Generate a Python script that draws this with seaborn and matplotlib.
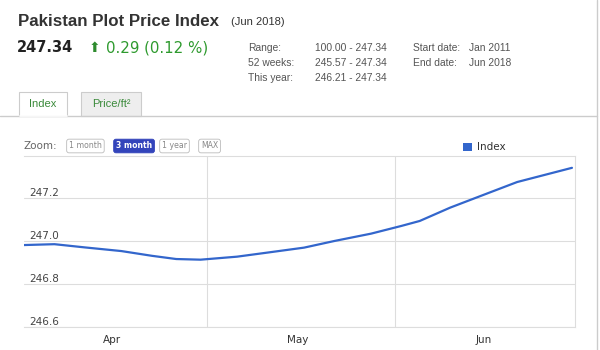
import seaborn as sns
import matplotlib.pyplot as plt
from matplotlib.patches import Rectangle
import pandas as pd

# values
dates = ["2018-04-01", "2018-04-06", "2018-04-11", "2018-04-17", "2018-04-22",
         "2018-04-26", "2018-04-30", "2018-05-06", "2018-05-11", "2018-05-17",
         "2018-05-22", "2018-05-28", "2018-06-02", "2018-06-05", "2018-06-10",
         "2018-06-16", "2018-06-21", "2018-06-27", "2018-06-30"]
index_vals = [246.981, 246.985, 246.970, 246.953, 246.931,
              246.916, 246.913, 246.927, 246.946, 246.969,
              247.000, 247.034, 247.070, 247.093, 247.155,
              247.220, 247.274, 247.318, 247.340]
y_ticks = [246.6, 246.8, 247.0, 247.2]
month_labels = ["Apr", "May", "Jun"]
month_mid = ["2018-04-15 12:00", "2018-05-16 00:00", "2018-06-15 12:00"]
month_starts = ["2018-05-01", "2018-06-01"]
zoom_buttons = ["1 month", "3 month", "1 year", "MAX"]

df = pd.DataFrame({"date": pd.to_datetime(dates), "Index": index_vals})

sns.set_style("white")
plt.rcParams['font.family'] = ['Liberation Sans', 'DejaVu Sans']

W, H = 600, 350
fig = plt.figure(figsize=(6, 3.5), dpi=100)

def fx(px):
    return px / W

def fy(py):
    return 1 - py / H

# header
fig.text(fx(18), fy(22), "Pakistan Plot Price Index", fontsize=12.2, fontweight='bold',
         color='#333333', va='center', ha='left')
fig.text(fx(231), fy(22), "(Jun 2018)", fontsize=8, color='#333333', va='center')
fig.text(fx(17), fy(48), "247.34", fontsize=10.5, fontweight='bold', color='#222222',
         va='center', family='DejaVu Sans')
fig.text(fx(89), fy(48), "\u2b06", fontsize=10, color='#2e8b2e', va='center', family='DejaVu Sans')
fig.text(fx(106), fy(48), "0.29 (0.12 %)", fontsize=10.8, color='#2e9a2e', va='center',
         family='DejaVu Sans')

info_left = ["Range:", "52 weeks:", "This year:"]
info_vals = ["100.00 - 247.34", "245.57 - 247.34", "246.21 - 247.34"]
for i, (a, b) in enumerate(zip(info_left, info_vals)):
    fig.text(fx(248), fy(48 + 15 * i), a, fontsize=7.4, color='#555555', va='center')
    fig.text(fx(315), fy(48 + 15 * i), b, fontsize=7.4, color='#555555', va='center')
fig.text(fx(413), fy(48), "Start date:", fontsize=7.4, color='#555555', va='center')
fig.text(fx(469), fy(48), "Jan 2011", fontsize=7.4, color='#555555', va='center')
fig.text(fx(413), fy(63), "End date:", fontsize=7.4, color='#555555', va='center')
fig.text(fx(469), fy(63), "Jun 2018", fontsize=7.4, color='#555555', va='center')

# tabs
fig.add_artist(plt.Line2D([0, fx(597)], [fy(116), fy(116)], color='#cccccc', lw=1))
fig.add_artist(Rectangle((fx(19), fy(116)), fx(48), 24 / H, facecolor='white',
                         edgecolor='#cccccc', lw=0.8))
fig.add_artist(plt.Line2D([fx(19.5), fx(66.5)], [fy(116), fy(116)], color='white', lw=1.2))
fig.text(fx(43), fy(104), "Index", fontsize=8, color='#3a8a3a', ha='center', va='center')
fig.add_artist(Rectangle((fx(81), fy(116)), fx(60), 24 / H, facecolor='#eeeeee',
                         edgecolor='#cccccc', lw=0.8))
fig.text(fx(111), fy(104), "Price/ft\u00b2", fontsize=8, color='#3a8a3a', ha='center', va='center')
fig.add_artist(plt.Line2D([fx(597), fx(597)], [0, 1], color='#cccccc', lw=1))

# zoom bar
fig.text(fx(24), fy(146), "Zoom:", fontsize=7.5, color='#666666', va='center', family='DejaVu Sans')
btn_x = [66, 113, 159, 198]
for bx, lab in zip(btn_x, zoom_buttons):
    active = lab == "3 month"
    fig.text(fx(bx + 3), fy(146), lab, fontsize=5.6, va='center', family='DejaVu Sans',
             color='white' if active else '#888888', fontweight='bold' if active else 'normal',
             bbox=dict(boxstyle='round,pad=0.3', fc='#3344bb' if active else 'white',
                       ec='#3344bb' if active else '#bbbbbb', lw=0.6))

# legend
fig.add_artist(Rectangle((fx(463), fy(151)), fx(9), 8 / H, facecolor='#3366cc', edgecolor='none'))
fig.text(fx(477), fy(147), "Index", fontsize=7.5, color='#333333', va='center', family='DejaVu Sans')

# chart
ax = fig.add_axes([fx(24), fy(327), fx(575 - 24), (327 - 156) / H])
sns.lineplot(data=df, x="date", y="Index", ax=ax, color='#3366cc', linewidth=1.6,
             solid_joinstyle='round')
ax.set_xlim(pd.Timestamp("2018-04-01"), pd.Timestamp("2018-06-30 12:00"))
ax.set_ylim(246.6, 247.395)
ax.set_yticks(y_ticks)
ax.set_yticklabels([f"{v:.1f}" for v in y_ticks])
ax.tick_params(axis='y', length=0, pad=-4, labelsize=7.5, labelcolor='#444444')
for lbl in ax.get_yticklabels():
    lbl.set_ha('left')
    lbl.set_va('bottom')
    lbl.set_family('DejaVu Sans')
ax.set_xticks(pd.to_datetime(month_starts))
ax.set_xticklabels([])
ax.set_xticks(pd.to_datetime(month_mid), minor=True)
ax.set_xticklabels(month_labels, minor=True)
ax.tick_params(axis='x', which='both', length=0, labelsize=7.5, labelcolor='#333333', pad=6)
for lbl in ax.get_xticklabels(minor=True):
    lbl.set_family('DejaVu Sans')
ax.grid(True, which='major', color='#dddddd', lw=0.8)
ax.set_xlabel("")
ax.set_ylabel("")
for s in ax.spines.values():
    s.set_color('#dddddd')
    s.set_linewidth(0.8)
ax.spines['left'].set_visible(False)

fig.savefig("out.png", dpi=100)
